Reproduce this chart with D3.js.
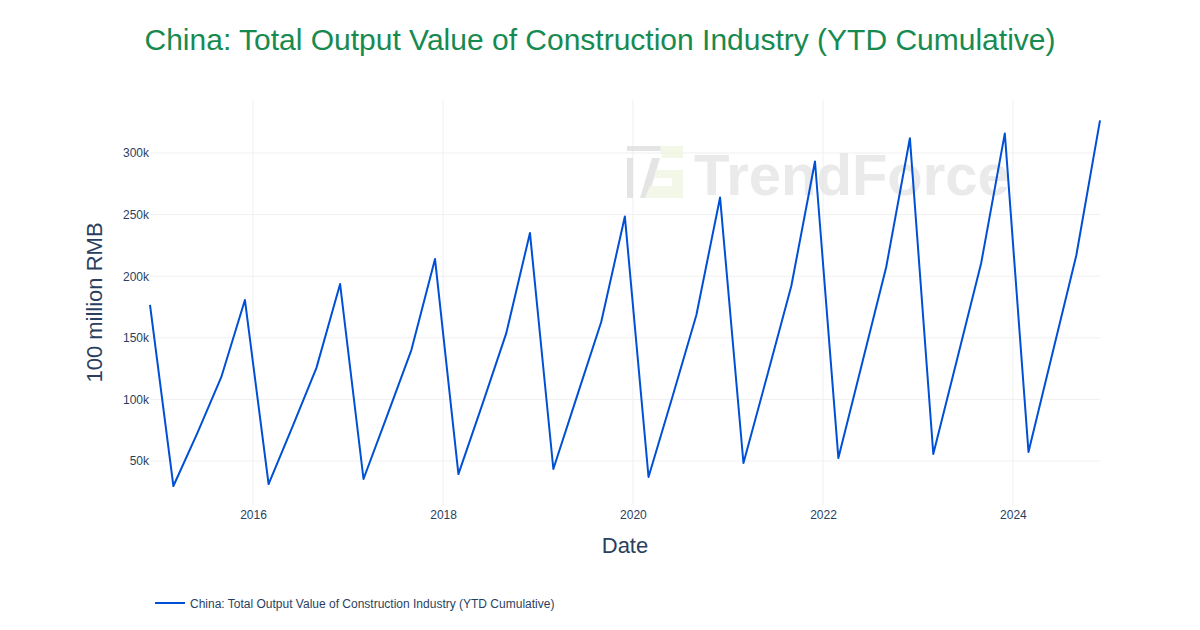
<!DOCTYPE html>
<html>
<head>
<meta charset="utf-8">
<script src="https://cdn.jsdelivr.net/npm/d3@7"></script>
<style>
  body { margin: 0; background: #fff; }
  svg { display: block; font-family: "Liberation Sans", Arial, sans-serif; }
</style>
</head>
<body>
<div id="chart"></div>
<script>
// Quarterly YTD cumulative values, 100 million RMB
const dates = [
  "2014-12-01",
  "2015-03-01", "2015-06-01", "2015-09-01", "2015-12-01",
  "2016-03-01", "2016-06-01", "2016-09-01", "2016-12-01",
  "2017-03-01", "2017-06-01", "2017-09-01", "2017-12-01",
  "2018-03-01", "2018-06-01", "2018-09-01", "2018-12-01",
  "2019-03-01", "2019-06-01", "2019-09-01", "2019-12-01",
  "2020-03-01", "2020-06-01", "2020-09-01", "2020-12-01",
  "2021-03-01", "2021-06-01", "2021-09-01", "2021-12-01",
  "2022-03-01", "2022-06-01", "2022-09-01", "2022-12-01",
  "2023-03-01", "2023-06-01", "2023-09-01", "2023-12-01",
  "2024-03-01", "2024-06-01", "2024-09-01", "2024-12-01"
];
const values = [
  176700,
  29700, 72700, 118000, 180700,
  31300, 78000, 125600, 193600,
  35400, 87500, 140000, 213900,
  39400, 96000, 153800, 235100,
  43500, 103300, 162800, 248400,
  37000, 102200, 168500, 263900,
  48400, 119800, 192000, 293100,
  52400, 130000, 207500, 312000,
  55700, 133000, 210500, 315900,
  57400, 137300, 217000, 326500
];
const yTicks = [50000, 100000, 150000, 200000, 250000, 300000];
const xTicks = ["2016-01-01", "2018-01-01", "2020-01-01", "2022-01-01", "2024-01-01"];
const seriesName = "China: Total Output Value of Construction Industry (YTD Cumulative)";

const width = 1200, height = 630;
const plot = { left: 150, right: 1100, top: 100, bottom: 505 };
const textColor = "#2a3f5f";

const parse = d3.timeParse("%Y-%m-%d");
const data = dates.map((d, i) => ({ date: parse(d), value: values[i] }));

const svg = d3.select("#chart").append("svg")
    .attr("width", width)
    .attr("height", height);

const x = d3.scaleTime()
    .domain(d3.extent(data, d => d.date))
    .range([plot.left, plot.right]);
const y = d3.scaleLinear()
    .domain([14300, 343000])
    .range([plot.bottom, plot.top]);

// grid
svg.append("g")
    .selectAll("line")
    .data(yTicks)
    .join("line")
    .attr("x1", plot.left).attr("x2", plot.right)
    .attr("y1", d => y(d)).attr("y2", d => y(d))
    .attr("stroke", "#f0f0f0").attr("stroke-width", 1);
svg.append("g")
    .selectAll("line")
    .data(xTicks.map(parse))
    .join("line")
    .attr("x1", d => x(d)).attr("x2", d => x(d))
    .attr("y1", plot.top).attr("y2", plot.bottom)
    .attr("stroke", "#f0f0f0").attr("stroke-width", 1);

// watermark
const wm = svg.append("g").attr("opacity", 0.75);
wm.append("rect").attr("x", 627).attr("y", 146).attr("width", 34).attr("height", 5).attr("fill", "#dcdcdc");
wm.append("rect").attr("x", 627).attr("y", 158).attr("width", 6).attr("height", 40).attr("fill", "#dcdcdc");
wm.append("path").attr("d", "M640,198 L652,158 L660,158 L648,198 Z").attr("fill", "#dcdcdc");
wm.append("path").attr("d", "M660,146 L683,146 L683,158 L662,158 Z M656,170 L683,170 L683,198 L645,198 L650,186 L672,186 L672,178 L654,178 Z").attr("fill", "#eef5e0");
wm.append("text")
    .attr("x", 694).attr("y", 195)
    .attr("font-size", 58).attr("font-weight", "bold")
    .attr("fill", "#e3e3e3")
    .text("TrendForce");

// axes
const yAxis = svg.append("g")
    .attr("transform", `translate(${plot.left},0)`)
    .call(d3.axisLeft(y).tickValues(yTicks).tickFormat(d => d3.format("~s")(d)).tickSize(0).tickPadding(1));
yAxis.select(".domain").remove();
yAxis.selectAll("text").attr("font-size", 12).attr("fill", textColor).attr("font-family", "Liberation Sans, Arial, sans-serif");

const xAxis = svg.append("g")
    .attr("transform", `translate(0,${plot.bottom})`)
    .call(d3.axisBottom(x).tickValues(xTicks.map(parse)).tickFormat(d3.timeFormat("%Y")).tickSize(0).tickPadding(5));
xAxis.select(".domain").remove();
xAxis.selectAll("text").attr("font-size", 12).attr("fill", textColor).attr("font-family", "Liberation Sans, Arial, sans-serif");

// line
const line = d3.line()
    .x(d => x(d.date))
    .y(d => y(d.value));
svg.append("path")
    .datum(data)
    .attr("fill", "none")
    .attr("stroke", "#0050d6")
    .attr("stroke-width", 2)
    .attr("stroke-linejoin", "round")
    .attr("d", line);

// titles
svg.append("text")
    .attr("x", width / 2).attr("y", 50)
    .attr("text-anchor", "middle")
    .attr("font-size", 30)
    .attr("fill", "#178a50")
    .text(seriesName);

svg.append("text")
    .attr("x", 625).attr("y", 553)
    .attr("text-anchor", "middle")
    .attr("font-size", 22)
    .attr("fill", textColor)
    .text("Date");

svg.append("text")
    .attr("transform", `translate(102,${(plot.top + plot.bottom) / 2}) rotate(-90)`)
    .attr("text-anchor", "middle")
    .attr("font-size", 22)
    .attr("fill", textColor)
    .text("100 million RMB");

// legend
const legend = svg.append("g").attr("transform", "translate(155,603)");
legend.append("line")
    .attr("x1", 0).attr("x2", 30)
    .attr("stroke", "#0050d6").attr("stroke-width", 2);
legend.append("text")
    .attr("x", 35).attr("y", 5)
    .attr("font-size", 12)
    .attr("fill", textColor)
    .text(seriesName);
</script>
</body>
</html>
